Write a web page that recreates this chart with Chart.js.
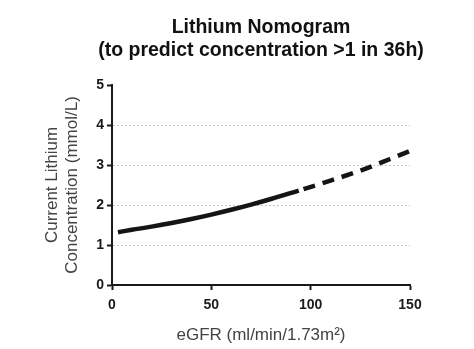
<!DOCTYPE html>
<html>
<head>
<meta charset="utf-8">
<script src="https://cdn.jsdelivr.net/npm/chart.js@4"></script>
<style>
  html, body { margin: 0; padding: 0; background: #fff; }
  #wrap { width: 474px; height: 349px; }
</style>
</head>
<body>
<div id="wrap"><canvas id="chart" width="474" height="349"></canvas></div>
<script>
// eGFR vs predicted lithium level
const solidEgfr = [3, 10, 20, 30, 40, 50, 60, 70, 80, 94];
const solidLevel = [1.32, 1.38, 1.46, 1.55, 1.65, 1.76, 1.88, 2.01, 2.15, 2.36];
const dashedEgfr = [94, 110, 125, 140, 151];
const dashedLevel = [2.36, 2.61, 2.86, 3.15, 3.37];
const xTicks = [0, 50, 100, 150];
const yTicks = [0, 1, 2, 3, 4, 5];

const FONT = "'Liberation Sans', Arial, Helvetica, sans-serif";
const toPoints = (xs, ys) => xs.map((x, i) => ({ x: x, y: ys[i] }));

new Chart(document.getElementById('chart'), {
    type: 'line',
    data: {
        datasets: [
            {
                data: toPoints(solidEgfr, solidLevel),
                borderColor: '#151515',
                borderWidth: 4.5,
                pointRadius: 0,
                cubicInterpolationMode: 'monotone',
                clip: false
            },
            {
                data: toPoints(dashedEgfr, dashedLevel),
                borderColor: '#151515',
                borderWidth: 4.5,
                borderDash: [12, 8],
                borderDashOffset: 15,
                pointRadius: 0,
                cubicInterpolationMode: 'monotone',
                clip: false
            }
        ]
    },
    options: {
        responsive: false,
        animation: false,
        // left padding keeps the full-width title centred over the plot
        layout: { padding: { left: 48, right: 0, top: 0, bottom: 0 } },
        plugins: {
            legend: { display: false },
            tooltip: { enabled: false },
            title: {
                display: true,
                text: ['Lithium Nomogram', '(to predict concentration >1 in 36h)'],
                color: '#111',
                font: { family: FONT, size: 19.5, weight: 'bold', lineHeight: 1.2 },
                padding: { top: 15.8, bottom: 22.4 }
            }
        },
        scales: {
            x: {
                type: 'linear',
                min: 0,
                max: 150,
                afterBuildTicks: s => { s.ticks = xTicks.map(v => ({ value: v })); },
                afterFit: s => { s.height = 64; },
                border: { display: true, color: '#1a1a1a', width: 2 },
                grid: {
                    drawOnChartArea: false,
                    color: 'rgba(0,0,0,0)',
                    tickColor: '#1a1a1a',
                    tickWidth: 2,
                    tickLength: 5
                },
                ticks: {
                    color: '#1a1a1a',
                    padding: 7,
                    maxRotation: 0,
                    font: { family: FONT, size: 14, weight: 'bold' }
                },
                title: {
                    display: true,
                    text: 'eGFR (ml/min/1.73m²)',
                    color: '#444',
                    font: { family: FONT, size: 17 },
                    padding: { top: 0, bottom: 3 }
                }
            },
            y: {
                min: 0,
                max: 5,
                afterBuildTicks: s => { s.ticks = yTicks.map(v => ({ value: v })); },
                afterFit: s => { s.width = 64; },
                border: { display: true, color: '#1a1a1a', width: 2, dash: [2, 2] },
                grid: {
                    color: c => (c.tick && (c.tick.value === 0 || c.tick.value === 5)) ? 'rgba(0,0,0,0)' : '#c4c4c4',
                    lineWidth: 1,
                    tickColor: '#1a1a1a',
                    tickWidth: 2,
                    tickLength: 5,
                    tickBorderDash: []
                },
                ticks: {
                    color: '#1a1a1a',
                    padding: 3,
                    font: { family: FONT, size: 14, weight: 'bold' }
                },
                title: {
                    display: true,
                    text: ['Current Lithium', 'Concentration (mmol/L)'],
                    color: '#444',
                    font: { family: FONT, size: 17, lineHeight: 1.2 },
                    padding: { top: -6, bottom: 0 }
                }
            },
            // empty right-hand box that reserves the margin right of the plot
            spacer: {
                type: 'linear',
                position: 'right',
                display: true,
                afterFit: s => { s.width = 64; },
                border: { display: false },
                grid: { display: false },
                ticks: { display: false },
                title: { display: false }
            }
        }
    }
});
</script>
</body>
</html>
